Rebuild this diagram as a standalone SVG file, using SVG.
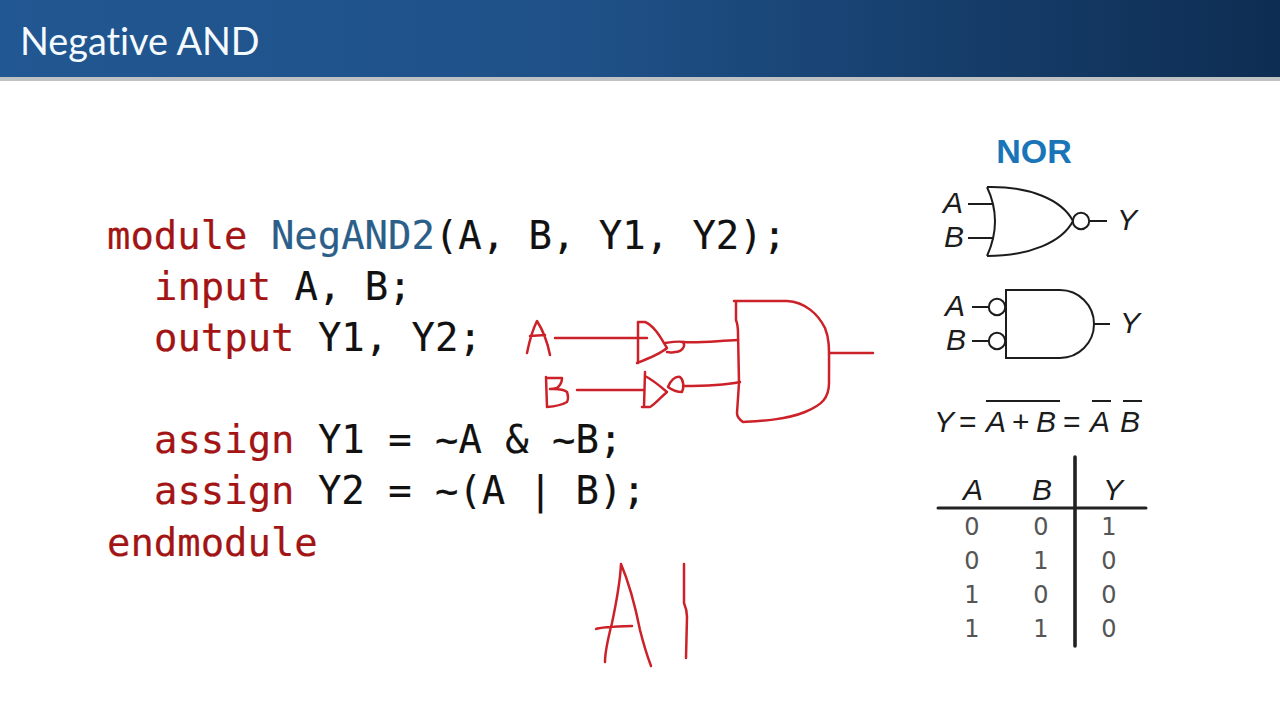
<svg xmlns="http://www.w3.org/2000/svg" width="1280" height="720" viewBox="0 0 1280 720">
<style>
.code{font-family:"DejaVu Sans Mono","Liberation Mono",monospace;font-size:38.9px;fill:#111;stroke:#111;stroke-width:0.2}
.kw{fill:#a31515;stroke:#a31515}
.nm{fill:#2b5f8a;stroke:#2b5f8a}
.ink{fill:none;stroke:#cc2129;stroke-width:2.5;stroke-linecap:round;stroke-linejoin:round}
.gate{fill:none;stroke:#1c1c1c;stroke-width:2}
.it{font-family:"Liberation Sans",Arial,sans-serif;font-style:italic;font-size:30px;fill:#1c1c1c}
.up{font-style:normal}
.dg{font-family:"DejaVu Sans",sans-serif;font-size:24px;fill:#555;text-anchor:middle}
</style>
<defs>
<linearGradient id="hdr" x1="0" x2="1" y1="0" y2="0">
<stop offset="0" stop-color="#215792"/>
<stop offset="0.45" stop-color="#1f5188"/>
<stop offset="1" stop-color="#0e2d52"/>
</linearGradient>
</defs>
<rect width="1280" height="720" fill="#fff"/>
<g id="header">
<rect width="1280" height="77" fill="url(#hdr)"/>
<rect y="77" width="1280" height="4" fill="#bfc2c4"/>
<text x="20" y="55" font-family="Lato,'Open Sans',sans-serif" font-size="37.8" style="font-variant-ligatures:none" fill="#f4fafd">Negative AND</text>
</g>
<g id="code">
<text class="code" x="107" y="249"><tspan class="kw">module</tspan> <tspan class="nm">NegAND2</tspan>(A, B, Y1, Y2);</text>
<text class="code" x="154" y="300"><tspan class="kw">input</tspan> A, B;</text>
<text class="code" x="154" y="351"><tspan class="kw">output</tspan> Y1, Y2;</text>
<text class="code" x="154" y="453"><tspan class="kw">assign</tspan> Y1 = ~A &amp; ~B;</text>
<text class="code" x="154" y="504"><tspan class="kw">assign</tspan> Y2 = ~(A | B);</text>
<text class="code kw" x="107" y="556">endmodule</text>
</g>
<g id="sketch">
<path class="ink" d="M527,353 Q531,333 537,321 Q546,335 550,355 M530,336 L545,335"/>
<path class="ink" d="M555,338 H647"/>
<path class="ink" d="M638,322 V363 M638,322 L645,322 C655,326 662,340 667,348 C660,354 650,358 637,363"/>
<path class="ink" d="M665,343 C672,342 680,341 683,342 C686,346 682,352 675,352 C672,353 669,352 667,352"/>
<path class="ink" d="M683,342 C700,343 715,341 738,340"/>
<path class="ink" d="M546,377 L547,407 M546,378 H562 Q562,384 557,388 Q553,389 550,389 M554,389 Q563,389 567,392 Q569,398 567,402 Q560,406 547,407"/>
<path class="ink" d="M577,390 H644"/>
<path class="ink" d="M645,372 L644,407 M645,376 C653,380 660,386 667,392 C660,398 654,405 650,407 L642,407"/>
<path class="ink" d="M668,387 C670,381 675,376 680,377 C684,380 684,388 682,392 C677,392 672,390 668,387 Z"/>
<path class="ink" d="M683,386 C700,386 720,386 740,382"/>
<path class="ink" d="M734,301 H787 C805,302 818,314 825,328 C830,340 829,350 829,383 C829,398 822,405 805,412 C785,420 760,421 743,422 Q737,418 737,413 L739,383 L738,333 Q738,325 736,320 V302"/>
<path class="ink" d="M830,353 H873"/>
<path class="ink" d="M621,564 Q620,585 612,623 Q605,650 605,662 M621,564 Q632,590 640,630 Q645,650 651,666 M596,629 Q600,627 632,626"/>
<path class="ink" d="M684,564 L684,603 Q687,610 687,617 L686,658"/>
</g>
<g id="nor-title">
<text x="1034" y="163" text-anchor="middle" font-family="'Liberation Sans',Arial,sans-serif" font-weight="700" font-size="34" fill="#1a75b8">NOR</text>
</g>
<g id="nor-gate">
<path class="gate" d="M987,187 Q1003,221 987,256 M987,187 C1030,186 1062,200 1073,221 C1062,242 1030,256 987,256"/>
<circle class="gate" cx="1081" cy="221" r="8.2"/>
<path class="gate" d="M1089,221 H1107 M968,204 H993 M968,238 H993"/>
<text class="it" x="943" y="213">A</text>
<text class="it" x="944" y="247">B</text>
<text class="it" x="1117" y="230">Y</text>
</g>
<g id="neg-and-gate">
<path class="gate" d="M1060,290 H1006 V358 H1060 A34,34 0 0 0 1060,290 Z"/>
<circle class="gate" cx="997" cy="307" r="8.2"/>
<circle class="gate" cx="997" cy="341" r="8.2"/>
<path class="gate" d="M1093,324 H1110 M972,307 H989 M972,341 H989"/>
<text class="it" x="945" y="316">A</text>
<text class="it" x="946" y="350">B</text>
<text class="it" x="1120" y="333">Y</text>
</g>
<g id="equation">
<text class="it" x="934" y="432">Y</text>
<text class="it up" x="959" y="432">=</text>
<text class="it" x="986" y="432">A</text>
<text class="it up" x="1012" y="432">+</text>
<text class="it" x="1036" y="432">B</text>
<text class="it up" x="1063" y="432">=</text>
<text class="it" x="1090" y="432">A</text>
<text class="it" x="1120" y="432">B</text>
<path class="gate" d="M986,401 H1060 M1092,401 H1111 M1123,401 H1142"/>
</g>
<g id="truth-table">
<path d="M1075,457 V646" stroke="#222" stroke-width="3.6" stroke-linecap="round" fill="none"/>
<path d="M938,508 H1146" stroke="#222" stroke-width="3" stroke-linecap="round" fill="none"/>
<text class="it" x="973" y="500" text-anchor="middle">A</text>
<text class="it" x="1042" y="500" text-anchor="middle">B</text>
<text class="it" x="1113" y="500" text-anchor="middle">Y</text>
<text class="dg" x="972" y="535">0</text><text class="dg" x="1041" y="535">0</text><text class="dg" x="1109" y="535">1</text>
<text class="dg" x="972" y="569">0</text><text class="dg" x="1041" y="569">1</text><text class="dg" x="1109" y="569">0</text>
<text class="dg" x="972" y="603">1</text><text class="dg" x="1041" y="603">0</text><text class="dg" x="1109" y="603">0</text>
<text class="dg" x="972" y="637">1</text><text class="dg" x="1041" y="637">1</text><text class="dg" x="1109" y="637">0</text>
</g>
</svg>
